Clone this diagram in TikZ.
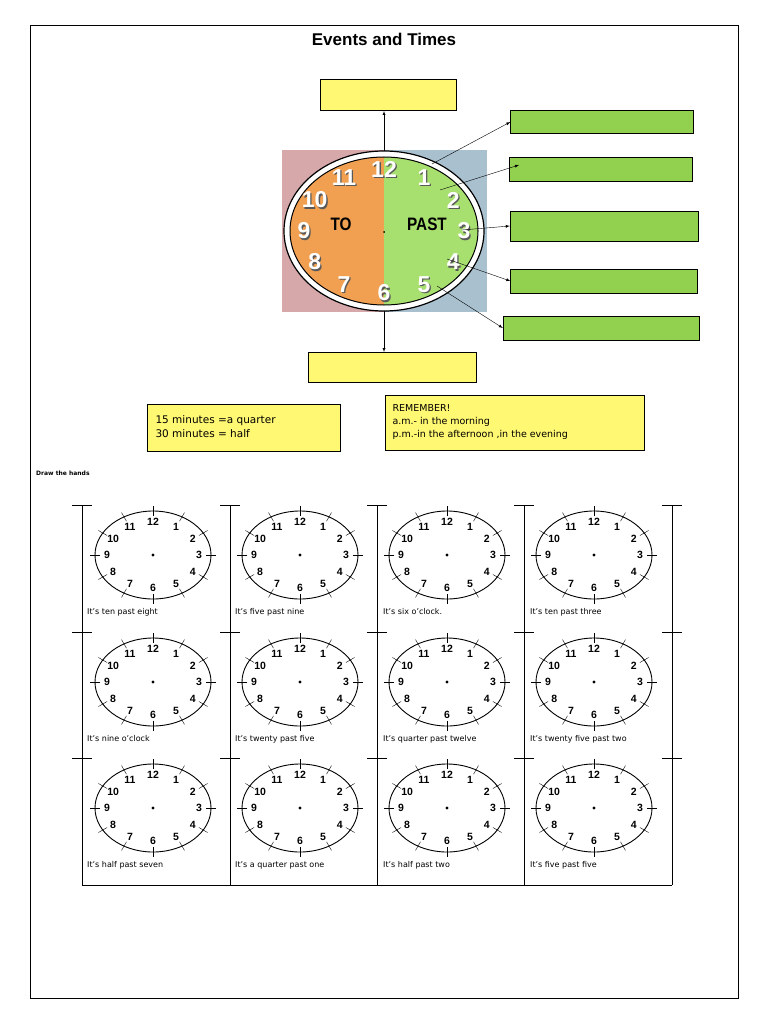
\documentclass[tikz,border=0pt]{standalone}
\usepackage{fontspec}
\setmainfont{DejaVu Sans}
\newfontfamily\heros{Liberation Sans}
\begin{document}
\begin{tikzpicture}[x=1pt,y=-1pt,
  ybox/.style={draw=black,fill=yellow!55},
  gbox/.style={draw=black,fill=gclr},
  arr/.style={-latex,thin},
  bign/.style={font=\heros\bfseries\fontsize{23}{23}\selectfont,text=white},
  bigs/.style={font=\heros\bfseries\fontsize{23}{23}\selectfont,text=gray!70!black},
  captxt/.style={anchor=west,font=\fontsize{8}{8}\selectfont,inner sep=0pt},
  smn/.style={font=\heros\bfseries\fontsize{10.5}{10.5}\selectfont,inner sep=0pt}]
\definecolor{gclr}{HTML}{92D050}
\definecolor{orng}{HTML}{F0A050}
\definecolor{lgrn}{HTML}{A8E070}
\definecolor{pnk}{HTML}{D6A8AA}
\definecolor{blu}{HTML}{A9C1CF}
\useasboundingbox (0,0) rectangle (768,1024);
\fill[white] (0,0) rectangle (768,1024);
\draw (30,25) rectangle (738,998);
\node[font=\heros\bfseries\fontsize{17}{17}\selectfont] (title) at (384,39) {Events and Times};
% big clock
\fill[pnk] (282,150) rectangle (384,312);
\fill[blu] (384,150) rectangle (487,312);
\draw[fill=white,line width=1.2pt] (384,231) ellipse (100 and 80);
\begin{scope}
\clip (384,231) ellipse (94 and 74);
\fill[orng] (280,150) rectangle (384,312);
\fill[lgrn] (384,150) rectangle (490,312);
\end{scope}
\draw[line width=1pt] (384,231) ellipse (94 and 74);
\fill (384,232) circle (1);
\coordinate (ctop) at (384,151);
\coordinate (cbot) at (384,311);
\foreach \n/\a in {12/90,1/60,2/30,3/0,4/-30,5/-60,6/-90,7/-120,8/-150,9/180,10/150,11/120}{
  \node[bigs] (s\n) at ({385.3+80*cos(\a)},{232.3-62*sin(\a)}) {\n};
  \node[bign] (h\n) at ({384+80*cos(\a)},{231-62*sin(\a)}) {\n};
}
\node[font=\heros\bfseries\fontsize{18}{18}\selectfont,xscale=0.85] (to) at (341,224) {TO};
\node[font=\heros\bfseries\fontsize{18}{18}\selectfont,xscale=0.85] (past) at (427,224) {PAST};
% top/bottom yellow
\node[ybox,minimum width=136,minimum height=31] (ytop) at (388,95) {};
\node[ybox,minimum width=168,minimum height=30] (ybot) at (392,367) {};
\draw[arr] (ctop) -- (384,111);
\draw[arr] (cbot) -- (384,352);
% green boxes
\node[gbox,minimum width=183,minimum height=23] (g1) at (602,122) {};
\node[gbox,minimum width=183,minimum height=24] (g2) at (601,169) {};
\node[gbox,minimum width=188,minimum height=30] (g3) at (604,226) {};
\node[gbox,minimum width=187,minimum height=24] (g4) at (604,281) {};
\node[gbox,minimum width=196,minimum height=24] (g5) at (601,328) {};
\draw[arr] (432,164) -- (g1.west);
\draw[arr] (440,190) -- (519,165);
\draw[arr] (462,230) -- (g3.west);
\draw[arr] (447,259) -- (g4.west);
\draw[arr] (437,286) -- (g5.west);
% info boxes
\node[ybox,minimum width=193,minimum height=47] (info1) at (244,428) {};
\node[anchor=west,align=left,font=\fontsize{10.5}{14}\selectfont] (t1) at (152,427) {15 minutes =a quarter\\30 minutes = half};
\node[ybox,minimum width=259,minimum height=55] (info2) at (515,423) {};
\node[anchor=west,align=left,font=\fontsize{9.5}{13}\selectfont] (t2) at (389,422) {REMEMBER!\\a.m.- in the morning\\p.m.-in the afternoon ,in the evening};
\node[anchor=west,font=\bfseries\fontsize{6}{6}\selectfont,inner sep=0pt] (dh) at (36,473) {Draw the hands};
% table
\foreach \x in {82,230,377,524,672}{
  \draw (\x,505) -- (\x,885);
  \foreach \y in {505,632,758}{\draw (\x-10,\y) -- (\x+10,\y);}
}
\draw (82,885) -- (672,885);
% small clocks
\foreach \r/\yy in {0/555,1/682,2/808}{
 \foreach \c/\xx in {0/153,1/300,2/447,3/594}{
  \draw[line width=0.9pt] (\xx,\yy) ellipse (58 and 44);
  \fill (\xx,\yy) circle (1.6);
  \foreach \n/\a in {12/90,1/60,2/30,3/0,4/-30,5/-60,6/-90,7/-120,8/-150,9/180,10/150,11/120}{
    \draw ({\xx+53*cos(\a)},{\yy-39*sin(\a)}) -- ({\xx+63*cos(\a)},{\yy-49*sin(\a)});
    \node[smn] at ({\xx+46*cos(\a)},{\yy-33*sin(\a)}) {\n};
  }
 }
}
\foreach \t/\x/\y in {{It's ten past eight}/87/612,{It's five past nine}/235/612,{It's six o'clock.}/383/612,{It's ten past three}/530/612,
{It's nine o'clock}/87/739,{It's twenty past five}/235/739,{It's quarter past twelve}/383/739,{It's twenty five past two}/530/739,
{It's half past seven}/87/865,{It's a quarter past one}/235/865,{It's half past two}/383/865,{It's five past five}/530/865}{
  \node[captxt] at (\x,\y) {\t};
}
\end{tikzpicture}
\end{document}
